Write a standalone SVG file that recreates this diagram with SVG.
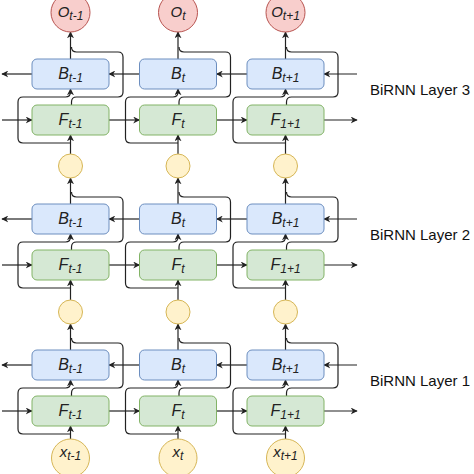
<svg xmlns="http://www.w3.org/2000/svg" width="474" height="474" viewBox="0 0 474 474">
<style>
.b{fill:#dae8fc;stroke:#6c8ebf;stroke-width:1}
.f{fill:#d5e8d4;stroke:#82b366;stroke-width:1}
.o{fill:#f8cecc;stroke:#b85450;stroke-width:1}
.y{fill:#fff2cc;stroke:#d6b656;stroke-width:1}
.e{fill:none;stroke:#222;stroke-width:1.2}
.a{fill:none;stroke:#222;stroke-width:1.2;marker-end:url(#ah)}
.t{font-family:"Liberation Sans",Arial,sans-serif;font-style:italic;fill:#222;text-anchor:middle}
.s{font-size:12px}
.l{font-family:"Liberation Sans",Arial,sans-serif;font-size:15px;fill:#111}
</style>
<defs>
<marker id="ah" viewBox="0 0 10 10" refX="9" refY="5" markerWidth="7" markerHeight="7" markerUnits="userSpaceOnUse" orient="auto">
<path d="M0,0 L10,5 L0,10 L3,5 Z" fill="#222"/>
</marker>
</defs>
<rect width="474" height="474" fill="#fff"/>

<g id="connectors">
<!-- Layer 3 (B 59-89, F 105-135) -->
<path class="a" d="M2,120 H32"/><path class="a" d="M109,120 H139.5"/><path class="a" d="M216.5,120 H247"/><path class="a" d="M324,120 H357"/>
<path class="a" d="M32,74 H2"/><path class="a" d="M139.5,74 H109"/><path class="a" d="M247,74 H216.5"/><path class="a" d="M357,74 H324"/>
<!-- Layer 2 (B 204-234, F 250-280) -->
<path class="a" d="M2,265 H32"/><path class="a" d="M109,265 H139.5"/><path class="a" d="M216.5,265 H247"/><path class="a" d="M324,265 H357"/>
<path class="a" d="M32,219 H2"/><path class="a" d="M139.5,219 H109"/><path class="a" d="M247,219 H216.5"/><path class="a" d="M357,219 H324"/>
<!-- Layer 1 (B 350-380, F 396-426) -->
<path class="a" d="M2,411 H32"/><path class="a" d="M109,411 H139.5"/><path class="a" d="M216.5,411 H247"/><path class="a" d="M324,411 H357"/>
<path class="a" d="M32,365 H2"/><path class="a" d="M139.5,365 H109"/><path class="a" d="M247,365 H216.5"/><path class="a" d="M357,365 H324"/>

<!-- col 1 cx=70.5 lx=18 rx=123 -->
<path class="a" d="M70.5,154 V135"/>
<path class="a" d="M70.5,143 H23 Q18,143 18,138 V102 Q18,97 23,97 H65.5 Q70.5,97 70.5,92 V89"/>
<path class="e" d="M71.5,105 V102 Q71.5,97 76.5,97 H118 Q123,97 123,92 V57 Q123,52 118,52 H76.5 Q71.5,52 71.5,47"/>
<path class="a" d="M70.5,59 V32"/>
<path class="a" d="M70.5,300 V280"/>
<path class="a" d="M70.5,288 H23 Q18,288 18,283 V247 Q18,242 23,242 H65.5 Q70.5,242 70.5,237 V234"/>
<path class="e" d="M71.5,250 V247 Q71.5,242 76.5,242 H118 Q123,242 123,237 V202 Q123,197 118,197 H76.5 Q71.5,197 71.5,192"/>
<path class="a" d="M70.5,204 V178"/>
<path class="a" d="M70.5,439 V426"/>
<path class="a" d="M70.5,434 H23 Q18,434 18,429 V393 Q18,388 23,388 H65.5 Q70.5,388 70.5,383 V380"/>
<path class="e" d="M71.5,396 V393 Q71.5,388 76.5,388 H118 Q123,388 123,383 V348 Q123,343 118,343 H76.5 Q71.5,343 71.5,338"/>
<path class="a" d="M70.5,350 V324"/>
<!-- col 2 cx=178 lx=125.5 rx=230.5 -->
<path class="a" d="M178,154 V135"/>
<path class="a" d="M178,143 H130.5 Q125.5,143 125.5,138 V102 Q125.5,97 130.5,97 H173 Q178,97 178,92 V89"/>
<path class="e" d="M179,105 V102 Q179,97 184,97 H225.5 Q230.5,97 230.5,92 V57 Q230.5,52 225.5,52 H184 Q179,52 179,47"/>
<path class="a" d="M178,59 V32"/>
<path class="a" d="M178,300 V280"/>
<path class="a" d="M178,288 H130.5 Q125.5,288 125.5,283 V247 Q125.5,242 130.5,242 H173 Q178,242 178,237 V234"/>
<path class="e" d="M179,250 V247 Q179,242 184,242 H225.5 Q230.5,242 230.5,237 V202 Q230.5,197 225.5,197 H184 Q179,197 179,192"/>
<path class="a" d="M178,204 V178"/>
<path class="a" d="M178,439 V426"/>
<path class="a" d="M178,434 H130.5 Q125.5,434 125.5,429 V393 Q125.5,388 130.5,388 H173 Q178,388 178,383 V380"/>
<path class="e" d="M179,396 V393 Q179,388 184,388 H225.5 Q230.5,388 230.5,383 V348 Q230.5,343 225.5,343 H184 Q179,343 179,338"/>
<path class="a" d="M178,350 V324"/>
<!-- col 3 cx=285.5 lx=233 rx=338 -->
<path class="a" d="M285.5,154 V135"/>
<path class="a" d="M285.5,143 H238 Q233,143 233,138 V102 Q233,97 238,97 H280.5 Q285.5,97 285.5,92 V89"/>
<path class="e" d="M286.5,105 V102 Q286.5,97 291.5,97 H333 Q338,97 338,92 V57 Q338,52 333,52 H291.5 Q286.5,52 286.5,47"/>
<path class="a" d="M285.5,59 V32"/>
<path class="a" d="M285.5,300 V280"/>
<path class="a" d="M285.5,288 H238 Q233,288 233,283 V247 Q233,242 238,242 H280.5 Q285.5,242 285.5,237 V234"/>
<path class="e" d="M286.5,250 V247 Q286.5,242 291.5,242 H333 Q338,242 338,237 V202 Q338,197 333,197 H291.5 Q286.5,197 286.5,192"/>
<path class="a" d="M285.5,204 V178"/>
<path class="a" d="M285.5,439 V426"/>
<path class="a" d="M285.5,434 H238 Q233,434 233,429 V393 Q233,388 238,388 H280.5 Q285.5,388 285.5,383 V380"/>
<path class="e" d="M286.5,396 V393 Q286.5,388 291.5,388 H333 Q338,388 338,383 V348 Q338,343 333,343 H291.5 Q286.5,343 286.5,338"/>
<path class="a" d="M285.5,350 V324"/>
</g>

<!-- outputs -->
<g id="o1"><circle class="o" cx="70.5" cy="12.5" r="19.5"/><text class="t" x="70.5" y="17" font-size="15">O<tspan class="s" dy="3">t-1</tspan></text></g>
<g id="o2"><circle class="o" cx="178" cy="12.5" r="19.5"/><text class="t" x="178" y="17" font-size="15">O<tspan class="s" dy="3">t</tspan></text></g>
<g id="o3"><circle class="o" cx="285.5" cy="12.5" r="19.5"/><text class="t" x="285.5" y="17" font-size="15">O<tspan class="s" dy="3">t+1</tspan></text></g>

<!-- Layer 3 -->
<g id="b3_1"><rect class="b" x="32" y="59" width="77" height="30" rx="5"/><text class="t" x="70.5" y="79" font-size="16">B<tspan class="s" dy="3">t-1</tspan></text></g>
<g id="b3_2"><rect class="b" x="139.5" y="59" width="77" height="30" rx="5"/><text class="t" x="178" y="79" font-size="16">B<tspan class="s" dy="3">t</tspan></text></g>
<g id="b3_3"><rect class="b" x="247" y="59" width="77" height="30" rx="5"/><text class="t" x="285.5" y="79" font-size="16">B<tspan class="s" dy="3">t+1</tspan></text></g>
<g id="f3_1"><rect class="f" x="32" y="105" width="77" height="30" rx="5"/><text class="t" x="70.5" y="125" font-size="16">F<tspan class="s" dy="3">t-1</tspan></text></g>
<g id="f3_2"><rect class="f" x="139.5" y="105" width="77" height="30" rx="5"/><text class="t" x="178" y="125" font-size="16">F<tspan class="s" dy="3">t</tspan></text></g>
<g id="f3_3"><rect class="f" x="247" y="105" width="77" height="30" rx="5"/><text class="t" x="285.5" y="125" font-size="16">F<tspan class="s" dy="3">1+1</tspan></text></g>

<g id="h2_1"><circle class="y" cx="70.5" cy="166" r="12"/></g>
<g id="h2_2"><circle class="y" cx="178" cy="166" r="12"/></g>
<g id="h2_3"><circle class="y" cx="285.5" cy="166" r="12"/></g>

<!-- Layer 2 -->
<g id="b2_1"><rect class="b" x="32" y="204" width="77" height="30" rx="5"/><text class="t" x="70.5" y="224" font-size="16">B<tspan class="s" dy="3">t-1</tspan></text></g>
<g id="b2_2"><rect class="b" x="139.5" y="204" width="77" height="30" rx="5"/><text class="t" x="178" y="224" font-size="16">B<tspan class="s" dy="3">t</tspan></text></g>
<g id="b2_3"><rect class="b" x="247" y="204" width="77" height="30" rx="5"/><text class="t" x="285.5" y="224" font-size="16">B<tspan class="s" dy="3">t+1</tspan></text></g>
<g id="f2_1"><rect class="f" x="32" y="250" width="77" height="30" rx="5"/><text class="t" x="70.5" y="270" font-size="16">F<tspan class="s" dy="3">t-1</tspan></text></g>
<g id="f2_2"><rect class="f" x="139.5" y="250" width="77" height="30" rx="5"/><text class="t" x="178" y="270" font-size="16">F<tspan class="s" dy="3">t</tspan></text></g>
<g id="f2_3"><rect class="f" x="247" y="250" width="77" height="30" rx="5"/><text class="t" x="285.5" y="270" font-size="16">F<tspan class="s" dy="3">1+1</tspan></text></g>

<g id="h1_1"><circle class="y" cx="70.5" cy="312" r="12"/></g>
<g id="h1_2"><circle class="y" cx="178" cy="312" r="12"/></g>
<g id="h1_3"><circle class="y" cx="285.5" cy="312" r="12"/></g>

<!-- Layer 1 -->
<g id="b1_1"><rect class="b" x="32" y="350" width="77" height="30" rx="5"/><text class="t" x="70.5" y="370" font-size="16">B<tspan class="s" dy="3">t-1</tspan></text></g>
<g id="b1_2"><rect class="b" x="139.5" y="350" width="77" height="30" rx="5"/><text class="t" x="178" y="370" font-size="16">B<tspan class="s" dy="3">t</tspan></text></g>
<g id="b1_3"><rect class="b" x="247" y="350" width="77" height="30" rx="5"/><text class="t" x="285.5" y="370" font-size="16">B<tspan class="s" dy="3">t+1</tspan></text></g>
<g id="f1_1"><rect class="f" x="32" y="396" width="77" height="30" rx="5"/><text class="t" x="70.5" y="416" font-size="16">F<tspan class="s" dy="3">t-1</tspan></text></g>
<g id="f1_2"><rect class="f" x="139.5" y="396" width="77" height="30" rx="5"/><text class="t" x="178" y="416" font-size="16">F<tspan class="s" dy="3">t</tspan></text></g>
<g id="f1_3"><rect class="f" x="247" y="396" width="77" height="30" rx="5"/><text class="t" x="285.5" y="416" font-size="16">F<tspan class="s" dy="3">1+1</tspan></text></g>

<!-- inputs -->
<g id="x1"><circle class="y" cx="70.5" cy="458" r="19"/><text class="t" x="70.5" y="457" font-size="15">x<tspan class="s" dy="3">t-1</tspan></text></g>
<g id="x2"><circle class="y" cx="178" cy="458" r="19"/><text class="t" x="178" y="457" font-size="15">x<tspan class="s" dy="3">t</tspan></text></g>
<g id="x3"><circle class="y" cx="285.5" cy="458" r="19"/><text class="t" x="285.5" y="457" font-size="15">x<tspan class="s" dy="3">t+1</tspan></text></g>

<g id="labels">
<text class="l" x="370" y="95">BiRNN Layer 3</text>
<text class="l" x="370" y="240">BiRNN Layer 2</text>
<text class="l" x="370" y="386">BiRNN Layer 1</text>
</g>
</svg>
